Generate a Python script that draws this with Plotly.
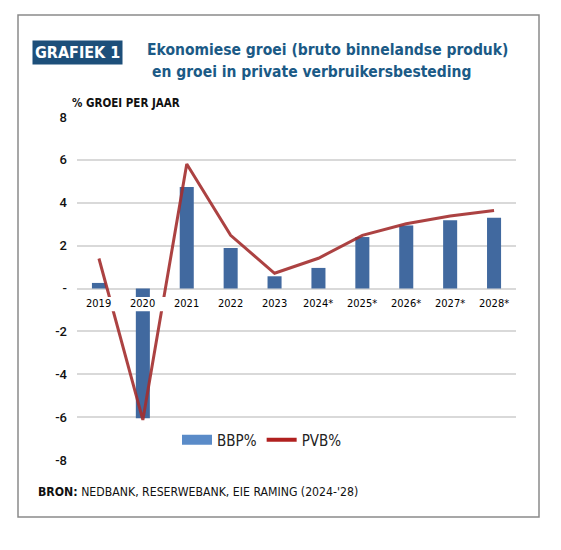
import plotly.graph_objects as go

# ---- data ----
years = ["2019", "2020", "2021", "2022", "2023", "2024*", "2025*", "2026*", "2027*", "2028*"]
bbp = [0.26, -6.05, 4.73, 1.89, 0.57, 0.96, 2.40, 2.94, 3.18, 3.30]
pvb = [1.40, -6.13, 5.81, 2.48, 0.71, 1.41, 2.48, 3.02, 3.38, 3.64]
y_tickvals = [-8, -6, -4, -2, 0, 2, 4, 6, 8]
y_ticktext = ["-8", "-6", "-4", "-2", "-", "2", "4", "6", "8"]

W, H = 561, 550
L, R, T, B = 77, 516, 117, 460  # plot area in pixels


def px(x):
    return (x - L) / (R - L)


def py(y):
    return (B - y) / (B - T)


FONT = "DejaVu Sans Condensed, Liberation Sans Narrow, Arial Narrow, sans-serif"
BAR_C = "#41699f"
LINE_C = "rgba(163,45,45,0.9)"

fig = go.Figure()
fig.add_trace(go.Bar(x=years, y=bbp, width=0.32, marker=dict(color=BAR_C, line_width=0),
                     showlegend=False, name="BBP%"))
fig.add_trace(go.Scatter(x=years, y=pvb, mode="lines", line=dict(color=LINE_C, width=3),
                         showlegend=False, name="PVB%"))
# legend-only entries
fig.add_trace(go.Scatter(x=[None], y=[None], mode="lines", line=dict(color="#5a8bc8", width=10),
                         name="BBP%"))
fig.add_trace(go.Scatter(x=[None], y=[None], mode="lines", line=dict(color="#b0201f", width=4),
                         name="PVB%"))

shapes = [
    # white band behind category labels
    dict(type="rect", xref="paper", yref="y", x0=0, x1=1, y0=-0.40, y1=-1.06,
         fillcolor="white", line_width=0, layer="above"),
    # outer frame
    dict(type="rect", xref="paper", yref="paper", x0=px(18), x1=px(539), y0=py(517), y1=py(15),
         line=dict(color="#8a8a8a", width=1.5), fillcolor="rgba(0,0,0,0)", layer="below"),
]

annotations = []
for i, yr in enumerate(years):
    annotations.append(dict(x=i, y=-0.70, xref="x", yref="y", text=yr, showarrow=False,
                            font=dict(family=FONT, size=11, color="#000", weight=500)))

annotations += [
    dict(x=px(32), y=py(52), xref="paper", yref="paper", xanchor="left", yanchor="middle",
         text="<b>GRAFIEK 1</b>", showarrow=False, bgcolor="#1d4f7a", borderpad=2,
         font=dict(family=FONT, size=16, color="white")),
    dict(x=px(145), y=py(50), xref="paper", yref="paper", xanchor="left", yanchor="middle",
         text="<b>Ekonomiese groei (bruto binnelandse produk)</b>", showarrow=False,
         font=dict(family=FONT, size=15.5, color="#1b5a86")),
    dict(x=px(150), y=py(72), xref="paper", yref="paper", xanchor="left", yanchor="middle",
         text="<b>en groei in private verbruikersbesteding</b>", showarrow=False,
         font=dict(family=FONT, size=15.5, color="#1b5a86")),
    dict(x=px(70), y=py(103), xref="paper", yref="paper", xanchor="left", yanchor="middle",
         text="<b>% GROEI PER JAAR</b>", showarrow=False,
         font=dict(family=FONT, size=11.5, color="#111")),
    dict(x=px(36), y=py(492), xref="paper", yref="paper", xanchor="left", yanchor="middle",
         text="<b>BRON:</b> NEDBANK, RESERWEBANK, EIE RAMING (2024-'28)", showarrow=False,
         font=dict(family=FONT, size=12.2, color="#111")),
]

fig.update_layout(
    width=W, height=H,
    margin=dict(l=L, r=W - R, t=T, b=H - B, pad=0),
    paper_bgcolor="white", plot_bgcolor="white",
    font=dict(family=FONT, color="#111"),
    showlegend=True,
    legend=dict(orientation="h", x=px(262), y=py(440), xanchor="center", yanchor="middle",
                font=dict(family=FONT, size=15, color="#222", weight=500),
                bgcolor="rgba(0,0,0,0)"),
    xaxis=dict(type="category", showticklabels=False, showgrid=False, zeroline=False,
               showline=False, ticks="", range=[-0.5, 9.5]),
    yaxis=dict(range=[-8, 8], tickvals=y_tickvals, ticktext=y_ticktext, showgrid=True,
               gridcolor="#d9d9d9", gridwidth=1.5, zeroline=False, showline=False,
               ticks="", ticklabelstandoff=9,
               tickfont=dict(family="Roboto, Arial, sans-serif", size=13, color="#111",
                             weight=500)),
    shapes=shapes, annotations=annotations,
    bargap=0.68,
)

fig.write_html("out.html")
